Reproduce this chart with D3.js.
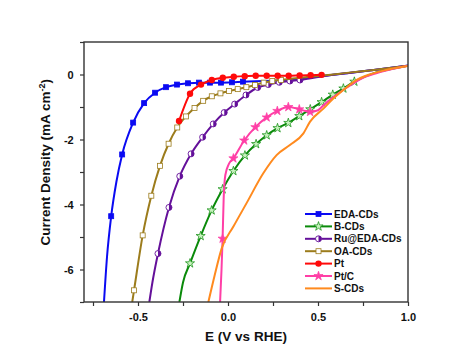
<!DOCTYPE html>
<html>
<head>
<meta charset="utf-8">
<script src="https://cdn.jsdelivr.net/npm/d3@7"></script>
<style>
body { margin: 0; background: #fff; }
text { font-family: Arial, "Liberation Sans", sans-serif; font-weight: bold; }
</style>
</head>
<body>
<script>
// [E (V vs RHE), current density (mA cm-2), marker flag]
var edaCDs = [[-0.689,-7.0,0],[-0.672,-5.6,0],[-0.649,-4.36,1],[-0.62,-3.3,0],[-0.588,-2.46,1],[-0.527,-1.48,1],
	[-0.466,-0.88,1],[-0.405,-0.56,1],[-0.344,-0.39,1],[-0.283,-0.31,1],[-0.222,-0.27,1],[-0.161,-0.25,1],
	[-0.10,-0.25,1],[-0.039,-0.25,1],[0.022,-0.24,1],[0.083,-0.22,1],[0.2,-0.2,0],[0.34,-0.17,0],
	[0.5,-0.06,0],[0.66,0.04,0],[0.81,0.14,0],[1.0,0.27,0]];
var bCDs = [[-0.27,-7.0,0],[-0.25,-6.4,0],[-0.211,-5.81,1],[-0.152,-4.97,1],[-0.091,-4.18,1],[-0.03,-3.53,1],
	[0.03,-2.97,1],[0.094,-2.49,1],[0.156,-2.14,1],[0.215,-1.87,1],[0.275,-1.65,1],[0.335,-1.49,1],
	[0.396,-1.28,1],[0.457,-1.07,1],[0.52,-0.85,1],[0.582,-0.62,1],[0.641,-0.43,1],[0.702,-0.22,1],
	[0.8,0.02,0],[0.9,0.16,0],[1.0,0.27,0]];
var ruEdaCDs = [[-0.437,-7.0,0],[-0.42,-6.4,0],[-0.389,-5.51,1],[-0.328,-4.09,1],[-0.268,-3.13,1],[-0.205,-2.44,1],
	[-0.141,-1.93,1],[-0.082,-1.52,1],[-0.021,-1.17,1],[0.037,-0.91,1],[0.1,-0.63,1],[0.165,-0.40,1],
	[0.224,-0.31,1],[0.285,-0.24,1],[0.344,-0.2,1],[0.40,-0.17,1],[0.5,-0.08,0],[0.66,0.04,0],
	[0.81,0.14,0],[1.0,0.27,0]];
var oaCDs = [[-0.532,-7.0,0],[-0.522,-6.64,1],[-0.474,-4.95,1],[-0.426,-3.73,1],[-0.378,-2.81,1],[-0.330,-2.13,1],
	[-0.282,-1.63,1],[-0.234,-1.29,1],[-0.186,-1.03,1],[-0.138,-0.81,1],[-0.090,-0.67,1],[-0.042,-0.58,1],
	[0.006,-0.51,1],[0.054,-0.45,1],[0.102,-0.39,1],[0.150,-0.32,1],[0.198,-0.25,1],[0.246,-0.2,1],
	[0.294,-0.17,1],[0.40,-0.1,0],[0.53,-0.03,0],[0.66,0.05,0],[0.81,0.14,0],[1.0,0.27,0]];
var pt = [[-0.272,-1.43,1],[-0.211,-0.59,1],[-0.15,-0.31,1],[-0.09,-0.17,1],[-0.029,-0.10,1],[0.032,-0.07,1],
	[0.093,-0.05,1],[0.154,-0.04,1],[0.215,-0.04,1],[0.276,-0.04,1],[0.337,-0.04,1],[0.398,-0.03,1],
	[0.459,-0.02,1],[0.52,-0.01,1]];
var ptC = [[-0.044,-7.0,0],[-0.036,-6.0,0],[-0.03,-5.05,1],[-0.024,-3.8,0],[-0.015,-3.1,0],[0.005,-2.75,0],
	[0.03,-2.58,1],[0.09,-2.03,1],[0.152,-1.62,1],[0.215,-1.32,1],[0.274,-1.12,1],[0.335,-1.0,1],
	[0.396,-1.07,1],[0.456,-1.15,1],[0.50,-1.1,0],[0.53,-0.95,0],[0.58,-0.72,0],[0.66,-0.40,0],
	[0.75,-0.1,0],[0.85,0.08,0],[1.0,0.27,0]];
var sCDs = [[-0.109,-7.0,0],[-0.075,-6.2,0],[-0.035,-5.35,0],[0.03,-4.68,0],[0.104,-3.95,0],[0.196,-3.04,0],
	[0.27,-2.48,0],[0.344,-2.17,0],[0.419,-1.81,0],[0.456,-1.45,0],[0.53,-1.05,0],[0.585,-0.74,0],
	[0.66,-0.39,0],[0.71,-0.18,0],[0.77,-0.03,0],[0.863,0.12,0],[1.0,0.26,0]];

var names = ["EDA-CDs", "B-CDs", "Ru@EDA-CDs", "OA-CDs", "Pt", "Pt/C", "S-CDs"];
var xTicks = [-0.5, 0.0, 0.5, 1.0];
var yTicks = [0, -2, -4, -6];

var series = [
	{name: names[0], data: edaCDs, color: "#0a0af2", mark: "square", fill: "#0a0af2"},
	{name: names[1], data: bCDs, color: "#0a8a0a", mark: "star", fill: "#c6f2bd"},
	{name: names[2], data: ruEdaCDs, color: "#64109a", mark: "half", fill: "#fff"},
	{name: names[3], data: oaCDs, color: "#9c7c1c", mark: "square", fill: "#fff"},
	{name: names[4], data: pt, color: "#ff0a0a", mark: "circle", fill: "#ff0a0a"},
	{name: names[5], data: ptC, color: "#ff3fa6", mark: "star", fill: "#ff3fa6"},
	{name: names[6], data: sCDs, color: "#ff8a1e", mark: null, fill: null}
];

var W = 474, H = 363;
var m = {left: 84, right: 66, top: 42, bottom: 61};

var svg = d3.select("body").append("svg")
	.attr("width", W)
	.attr("height", H);

var x = d3.scaleLinear().domain([-0.8, 1.0]).range([m.left, W - m.right]);
var y = d3.scaleLinear().domain([-7, 1]).range([H - m.bottom, m.top]);

var fmt = function(d) { return d3.format(".1f")(d).replace("\u2212", "-"); };

// axes (outward ticks, minors without label)
var xAxis = svg.append("g")
	.attr("transform", "translate(0," + (H - m.bottom) + ")")
	.call(d3.axisBottom(x).tickValues(d3.range(-0.75, 1.01, 0.25)).tickSize(4)
		.tickFormat(function(d) { return xTicks.some(function(t) { return Math.abs(t - d) < 1e-6; }) ? fmt(d) : ""; }));
var yAxis = svg.append("g")
	.attr("transform", "translate(" + m.left + ",0)")
	.call(d3.axisLeft(y).tickValues(d3.range(-7, 1.01, 1)).tickSize(4)
		.tickFormat(function(d) { return yTicks.indexOf(d) >= 0 ? String(d) : ""; }));
[xAxis, yAxis].forEach(function(a) {
	a.select(".domain").remove();
	a.selectAll(".tick line").attr("stroke", "#333").attr("stroke-width", 1.2);
	a.selectAll(".tick text").attr("font-size", 11).attr("fill", "#111")
		.style("font-family", "Arial, 'Liberation Sans', sans-serif").style("font-weight", "bold");
});
xAxis.selectAll(".tick text").attr("dy", "1.05em");
yAxis.selectAll(".tick text").attr("dx", "-0.3em");

var clip = svg.append("clipPath").attr("id", "clip").append("rect")
	.attr("x", m.left).attr("y", m.top)
	.attr("width", W - m.left - m.right).attr("height", H - m.top - m.bottom);

var line = d3.line()
	.x(function(d) { return x(d[0]); })
	.y(function(d) { return y(d[1]); })
	.curve(d3.curveMonotoneX);

var plot = svg.append("g").attr("clip-path", "url(#clip)");

function drawMarker(g, type, color, fill, cx, cy) {
	if (type == "square") {
		g.append("rect").attr("x", cx - 2.5).attr("y", cy - 2.5).attr("width", 5).attr("height", 5)
			.attr("fill", fill).attr("stroke", color).attr("stroke-width", 0.8);
	} else if (type == "circle") {
		g.append("circle").attr("cx", cx).attr("cy", cy).attr("r", 3.2).attr("fill", fill);
	} else if (type == "half") {
		g.append("circle").attr("cx", cx).attr("cy", cy).attr("r", 3)
			.attr("fill", "#fff").attr("stroke", color).attr("stroke-width", 0.9);
		g.append("path").attr("d", "M" + cx + "," + (cy - 3) + "A3,3 0 0,1 " + cx + "," + (cy + 3) + "Z")
			.attr("fill", color);
	} else if (type == "star") {
		g.append("path").attr("d", d3.symbol().type(d3.symbolStar).size(26)())
			.attr("transform", "translate(" + cx + "," + cy + ")")
			.attr("fill", fill).attr("stroke", color).attr("stroke-width", 0.7);
	}
}

series.forEach(function(s) {
	plot.append("path")
		.datum(s.data)
		.attr("d", line)
		.attr("fill", "none")
		.attr("stroke", s.color)
		.attr("stroke-width", 2);
	var g = plot.append("g");
	if (s.mark) {
		s.data.filter(function(d) { return d[2]; }).forEach(function(d) {
			drawMarker(g, s.mark, s.color, s.fill, x(d[0]), y(d[1]));
		});
	}
});

// frame
svg.append("rect")
	.attr("x", m.left).attr("y", m.top)
	.attr("width", W - m.left - m.right).attr("height", H - m.top - m.bottom)
	.attr("fill", "none").attr("stroke", "#333").attr("stroke-width", 1.4);

// legend
var leg = svg.append("g");
series.forEach(function(s, i) {
	var ly = 214 + i * 12.4;
	leg.append("line").attr("x1", 305).attr("x2", 332).attr("y1", ly).attr("y2", ly)
		.attr("stroke", s.color).attr("stroke-width", 2);
	if (s.mark) drawMarker(leg, s.mark, s.color, s.fill, 318.5, ly);
	leg.append("text").attr("x", 334).attr("y", ly).attr("dy", "0.36em")
		.attr("font-size", 10).attr("fill", "#111").text(s.name);
});

// axis titles
svg.append("text")
	.attr("x", x(0.1)).attr("y", 341)
	.attr("text-anchor", "middle").attr("font-size", 13.5).attr("fill", "#111")
	.text("E (V vs RHE)");
var yl = svg.append("text")
	.attr("transform", "translate(50," + y(-2.7) + ") rotate(-90)")
	.attr("text-anchor", "middle").attr("font-size", 13.5).attr("fill", "#111");
yl.append("tspan").text("Current Density (mA cm");
yl.append("tspan").attr("font-size", 9).attr("dy", -5).text("-2");
yl.append("tspan").attr("dy", 5).text(")");
</script>
</body>
</html>
